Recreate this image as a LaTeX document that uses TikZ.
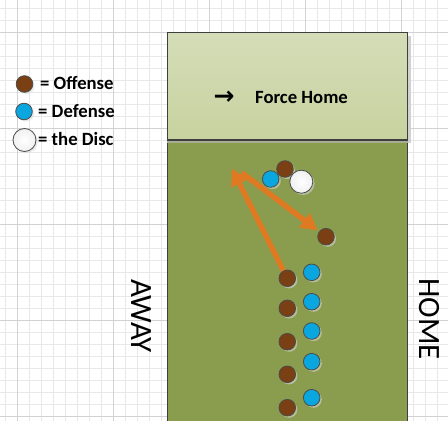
\documentclass[tikz,border=0pt]{standalone}
\usepackage{fontspec}
\setmainfont{Carlito}
\newfontfamily\symfont{DejaVu Sans}
\usetikzlibrary{arrows.meta,shadows}
\definecolor{gridminor}{HTML}{E8E8E8}
\definecolor{gridmajor}{HTML}{D2D2D2}
\definecolor{boxtop}{HTML}{D5DDB8}
\definecolor{boxbot}{HTML}{C8D29F}
\definecolor{fieldgreen}{HTML}{8A9C4E}
\definecolor{bordergray}{HTML}{3F3F3F}
\definecolor{bandgray}{HTML}{A7AD90}
\definecolor{offbrown}{HTML}{7A3F12}
\definecolor{defblue}{HTML}{0AA6E0}
\definecolor{arroworange}{HTML}{E07A22}
\tikzset{
  player/.style={circle, draw=black!70, line width=0.8pt, minimum size=16.6pt, inner sep=0pt,
    drop shadow={shadow xshift=1.8pt, shadow yshift=-1.8pt, fill=black!15, opacity=0.55}},
  offense/.style={player, fill=offbrown},
  defense/.style={player, fill=defblue},
  disc/.style={player, minimum size=23pt, inner color=white, outer color=black!6},
  lbl/.style={font=\bfseries\fontsize{18.7}{20}\selectfont, inner sep=0pt, anchor=west},
  side/.style={font=\fontsize{31}{33}\selectfont, rotate=-90, inner sep=0pt},
  cutarrow/.style={draw=arroworange, line width=5.4pt, -{Triangle[length=17pt,width=17pt]}}
}
\begin{document}
\begin{tikzpicture}[x=1pt,y=-1pt]
\useasboundingbox (0,0) rectangle (448,421);
% grid
\foreach \i in {0,...,37} {
  \draw[gridminor, line width=0.6pt] ({5.3+12*\i},0) -- ({5.3+12*\i},421);
}
\foreach \i in {0,...,35} {
  \draw[gridminor, line width=0.6pt] (0,{8.3+12*\i}) -- (448,{8.3+12*\i});
}
\foreach \i in {0,...,4} {
  \draw[gridmajor, line width=0.8pt] ({17.3+96*\i},0) -- ({17.3+96*\i},421);
  \draw[gridmajor, line width=0.8pt] (0,{32.3+96*\i}) -- (448,{32.3+96*\i});
}
% upper box shadow
\fill[black!18] (170.5,35.5) rectangle (410.7,143);
% field
\fill[fieldgreen] (167.3,140) rectangle (407.7,425);
\draw[bordergray, line width=1.4pt] (167.3,425) -- (167.3,140) (407.7,140) -- (407.7,425);
\fill[bandgray] (167.3,140) rectangle (407.7,143);
% upper box
\shade[top color=boxtop, bottom color=boxbot] (167.3,32.3) rectangle (407.7,140);
\draw[bordergray, line width=1.4pt] (167.3,32.3) rectangle (407.7,140);
\node[inner sep=0pt] (fa) at (224,97.5) {\symfont\bfseries\fontsize{25}{26}\selectfont →};
\node[lbl] (fh) at (255,98) {Force Home};
% legend
\node[offense] (lo) at (24.5,84) {};
\node[defense] (ld) at (24,111.5) {};
\node[disc] (lw) at (24.5,140) {};
\node[lbl] (lot) at (40,83) {= Offense};
\node[lbl] (ldt) at (38,111) {= Defense};
\node[lbl] (lwt) at (38,139) {= the Disc};
% side labels
\node[side] (away) at (141.5,316) {AWAY};
\node[side] (home) at (429.5,319) {HOME};
% players
\node[defense] (d0) at (270.7,179) {};
\node[offense] (o0) at (285,169) {};
\node[disc] (w) at (301.3,181.7) {};
\node[offense] (o1) at (326,236.7) {};
\node[offense] (o2) at (287.3,278.3) {};
\node[offense] (o3) at (287.3,308.3) {};
\node[offense] (o4) at (287.3,341.7) {};
\node[offense] (o5) at (287.3,374.3) {};
\node[offense] (o6) at (287.3,407.7) {};
\node[defense] (d1) at (311.7,272.3) {};
\node[defense] (d2) at (311.7,301.7) {};
\node[defense] (d3) at (311.7,331) {};
\node[defense] (d4) at (311.7,361.7) {};
\node[defense] (d5) at (311.7,397.7) {};
% movement arrows
\coordinate (cut1) at (231.7,168.3);
\coordinate (cut2) at (241.7,172.7);
\draw[cutarrow] (o2) -- (cut1);
\draw[cutarrow, shorten >=1.5pt] (cut2) -- (o1);
\end{tikzpicture}
\end{document}
